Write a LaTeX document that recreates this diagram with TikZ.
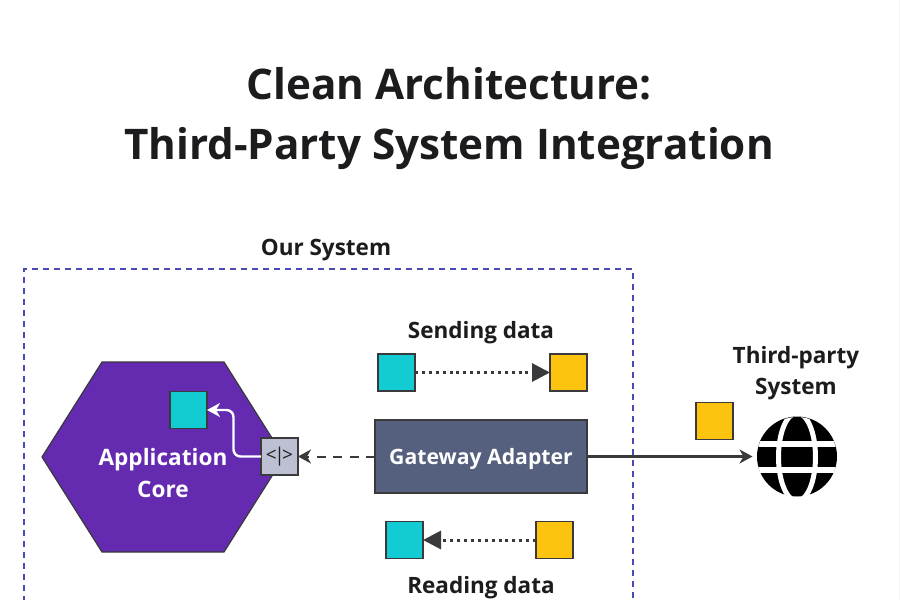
\documentclass[tikz,border=0pt]{standalone}
\usepackage{fontspec}
\setmainfont{Open Sans}
\usetikzlibrary{arrows.meta}
\definecolor{ink}{HTML}{1C1C1E}
\definecolor{edge}{HTML}{3A3A3C}
\definecolor{cyanfill}{HTML}{12CBD3}
\definecolor{yellowfill}{HTML}{FCC40F}
\definecolor{corefill}{HTML}{642AB0}
\definecolor{gatefill}{HTML}{55607F}
\definecolor{adaptfill}{HTML}{BDBFD2}
\definecolor{dashblue}{HTML}{4A4AB5}
\tikzset{
  x=1pt,y=-1pt,
  title/.style={font=\fontsize{42.2}{42.2}\selectfont\bfseries,text=ink,anchor=center,inner sep=0},
  label/.style={font=\fontsize{22.5}{22.5}\selectfont\bfseries,text=ink,anchor=center,inner sep=0},
  whitelabel/.style={text=white,anchor=center,inner sep=0},
  sq/.style={draw=edge,line width=1.4pt,minimum size=37pt,inner sep=0,outer sep=0},
  cy/.style={sq,fill=cyanfill},
  ye/.style={sq,fill=yellowfill},
  conn/.style={draw=edge,line width=2.2pt},
  dotted line/.style={conn,line width=3pt,dash pattern=on 3pt off 3.9pt},
  tip/.style={-{Triangle[length=18pt,width=18pt]}},
  vee/.style={-{Stealth[length=13pt,width=14pt,inset=4pt]}},
}
\begin{document}
\begin{tikzpicture}
\useasboundingbox (0,0) rectangle (900,600);
\fill[white] (0,0) rectangle (900,600);
\fill[black!4] (898.8,0) rectangle (900,600);
\node[title] (t1) at (449,84) {Clean Architecture:};
\node[title] (t2) at (449,148.5) {Third-Party System Integration};
\node[label] (oursys) at (326,250) {Our System};
\begin{scope}
\clip (0,0) rectangle (900,600);
\draw[dashblue,line width=1.6pt,dash pattern=on 6pt off 5pt] (633,620) -- (633,269) -- (24,269) -- (24,620);
\end{scope}
\node[label] (send) at (481,333) {Sending data};
\node[label] (read) at (481,588) {Reading data};
\node[label,align=center,font=\fontsize{22.5}{31.5}\selectfont\bfseries] (tps) at (796,373) {Third-party\\System};
% hexagon
\draw[fill=corefill,draw=edge,line width=1.2pt] (42,457) -- (102,362) -- (224,362) -- (284,457) -- (224,552) -- (102,552) -- cycle;
\node[whitelabel,align=center,font=\fontsize{22.6}{32}\selectfont\bfseries] (core) at (163,473) {Application\\Core};
\node[cy] (c0) at (188.5,410) {};
\node[sq,fill=adaptfill,text=ink] (adapter) at (279.5,456.5) {\fontsize{19}{19}\selectfont<\kern-2.5pt|\kern-2.5pt>};
\draw[white,line width=2.4pt,line join=round,rounded corners=7pt,vee] (adapter.west) -- (233.5,456.5) -- (233.5,410) -- (c0.east);
% gateway
\node[draw=edge,line width=1.4pt,fill=gatefill,minimum width=212pt,minimum height=73pt,inner sep=0,outer sep=0,text=white] (gate) at (481,456.5) {\fontsize{21.2}{21.2}\selectfont\bfseries\rule[-5pt]{0pt}{26pt}Gateway Adapter};
\node[cy] (c1) at (396.5,372.5) {};
\node[ye] (y1) at (568.5,372.5) {};
\node[cy] (c2) at (404.5,540) {};
\node[ye] (y2) at (554.5,540) {};
\node[ye] (y3) at (714.5,421) {};
\draw[dotted line,tip] (c1.east) -- (y1.west);
\draw[dotted line,tip] (y2.west) -- (c2.east);
\draw[conn,line width=2pt,dash pattern=on 9pt off 7.5pt,vee] (gate.west) -- (adapter.east);
% globe
\node[circle,fill=black,minimum size=80pt,inner sep=0,outer sep=0] (globe) at (797,456.5) {};
\begin{scope}
\clip (797,457) circle (40);
\draw[white,line width=5pt] (797,457) ellipse (18.5 and 44);
\draw[white,line width=5.2pt] (750,444) -- (845,444);
\draw[white,line width=5.2pt] (750,470) -- (845,470);
\end{scope}
\draw[conn,line width=2.6pt,vee,shorten >=4.5pt] (gate.east) -- (globe.west);
\end{tikzpicture}
\end{document}
